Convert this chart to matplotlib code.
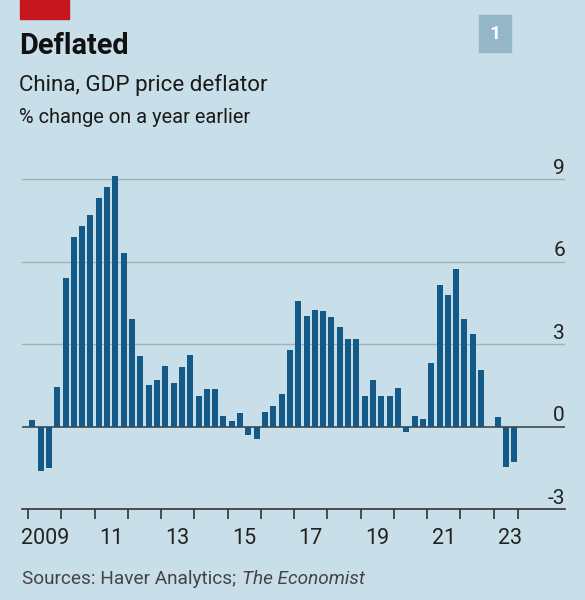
import matplotlib.pyplot as plt
import numpy as np

# quarterly GDP deflator, % change on a year earlier, 2009Q1 - 2023Q3
deflator = [0.25, -1.6, -1.5, 1.45,
            5.4, 6.9, 7.3, 7.7,
            8.3, 8.7, 9.1, 6.3,
            3.9, 2.55, 1.5, 1.7,
            2.2, 1.6, 2.15, 2.6,
            1.1, 1.35, 1.35, 0.4,
            0.2, 0.5, -0.3, -0.45,
            0.53, 0.75, 1.2, 2.78,
            4.57, 4.03, 4.24, 4.2,
            3.97, 3.64, 3.2, 3.2,
            1.12, 1.7, 1.12, 1.12,
            1.4, -0.18, 0.37, 0.28,
            2.3, 5.15, 4.78, 5.72,
            3.9, 3.37, 2.07, 0.0,
            0.36, -1.48, -1.29]
years = list(range(2009, 2024))
year_labels = ["2009", "", "11", "", "13", "", "15", "", "17", "", "19", "", "21", "", "23"]
y_ticks = [-3, 0, 3, 6, 9]

bg = "#c8dee8"
bar_col = "#135a88"
font = "Roboto"

W, H = 585, 600
fig = plt.figure(figsize=(W / 100, H / 100), dpi=100, facecolor=bg)

def px(x, y):
    return x / W, 1 - y / H

ax = fig.add_axes([22 / W, (H - 509) / H, (565 - 22) / W, 349 / H])
ax.set_facecolor(bg)

x = np.arange(len(deflator))
ax.bar(x, deflator, width=0.72, color=bar_col, zorder=3)

ax.set_xlim(-1.24, 64.1)
ax.set_ylim(-3, 9.7)

for v in y_ticks:
    if v == 0:
        ax.axhline(v, color="#3d4a52", lw=1.2, zorder=4)
    elif v != -3:
        ax.axhline(v, color="#9fb2bc", lw=1.0, zorder=1)
    ax.text(1.0, v + 0.2, str(v), transform=ax.get_yaxis_transform(),
            ha="right", va="baseline", fontsize=15, color="#222222", family=font)

for s in ["top", "right", "left"]:
    ax.spines[s].set_visible(False)
ax.spines["bottom"].set_color("#333333")
ax.spines["bottom"].set_linewidth(1.2)
ax.set_yticks([])

# year boundaries as ticks, labels in the middle of each year
n_q = len(deflator)
bounds = [4 * i - 0.5 for i in range(len(years))] + [n_q - 0.5]
ax.set_xticks(bounds)
ax.set_xticklabels([])
ax.tick_params(axis="x", which="major", length=7, width=1.2, color="#333333", direction="out")
ax.set_xticks([4 * i + 1.5 for i in range(len(years))], minor=True)
ax.set_xticklabels(year_labels, minor=True, fontsize=15.5, color="#222222", family=font)
ax.tick_params(axis="x", which="minor", length=0, pad=14)

# header
fig.patches.append(plt.Rectangle(px(20, 19), 49 / W, 19 / H, transform=fig.transFigure,
                                 color="#c4161c", zorder=5))
fig.text(*px(19, 46), "Deflated", fontsize=20.8, fontweight="bold", family=font,
         va="center", ha="left", color="#111111")
fig.text(*px(19, 85), "China, GDP price deflator", fontsize=16.1, family=font,
         va="center", ha="left", color="#1a1a1a")
fig.text(*px(19, 117), "% change on a year earlier", fontsize=14.4, family=font,
         va="center", ha="left", color="#1a1a1a")
fig.patches.append(plt.Rectangle(px(479, 52), 32 / W, 37 / H, transform=fig.transFigure,
                                 color="#93b6c9", zorder=5))
fig.text(*px(495, 34), "1", fontsize=14, fontweight="bold", family=font, color="white",
         ha="center", va="center", zorder=6)

fig.text(*px(22, 579), "Sources: Haver Analytics;", fontsize=13.7, family=font,
         va="center", ha="left", color="#444444")
fig.text(*px(242, 579), "The Economist", fontsize=13.7, family=font, style="italic",
         va="center", ha="left", color="#444444")

fig.savefig("out.png", dpi=100, facecolor=bg)
